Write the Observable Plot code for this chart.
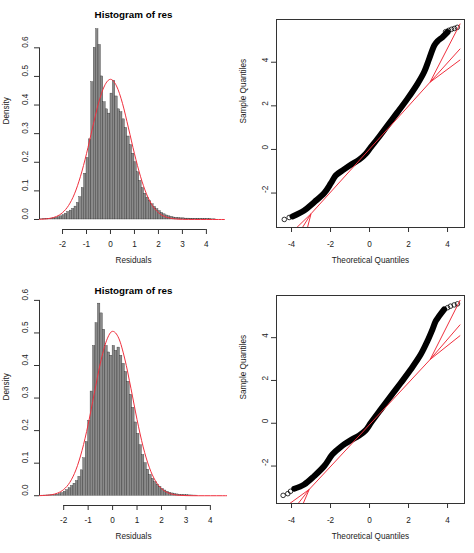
<!DOCTYPE html>
<html>
<head>
<meta charset="utf-8">
<script src="https://cdn.jsdelivr.net/npm/d3@7"></script>
<script src="https://cdn.jsdelivr.net/npm/@observablehq/plot@0.6"></script>
<style>
  body { margin: 0; background: #fff; }
  #fig { position: relative; width: 474px; height: 553px; background: #fff; }
  #fig > div { position: absolute; }
</style>
</head>
<body>
<div id="fig"></div>
<script>
// Histogram breaks (bin edges) shared by both residual histograms
const breaks = [-3.0,-2.9,-2.8,-2.7,-2.6,-2.5,-2.4,-2.3,-2.2,-2.1,-2.0,-1.9,-1.8,-1.7,-1.6,-1.5,-1.4,-1.3,-1.2,-1.1,
  -1.0,-0.9,-0.8,-0.7,-0.6,-0.5,-0.4,-0.3,-0.2,-0.1,0.0,0.1,0.2,0.3,0.4,0.5,0.6,0.7,0.8,0.9,
  1.0,1.1,1.2,1.3,1.4,1.5,1.6,1.7,1.8,1.9,2.0,2.1,2.2,2.3,2.4,2.5,2.6,2.7,2.8,2.9,
  3.0,3.1,3.2,3.3,3.4,3.5,3.6,3.7,3.8,3.9,4.0,4.1,4.2,4.3,4.4,4.5];

// Density per bin, first model
const densityTop = [
  0, 0.0005, 0.001, 0.0015, 0.002, 0.003, 0.004, 0.006, 0.008, 0.011,
  0.015, 0.020, 0.026, 0.031, 0.037, 0.045, 0.058, 0.078, 0.11, 0.16,
  0.215, 0.28, 0.48, 0.60, 0.665, 0.61, 0.50, 0.41, 0.385, 0.37,
  0.44, 0.485, 0.43, 0.385, 0.375, 0.35, 0.32, 0.29, 0.26, 0.23,
  0.20, 0.165, 0.135, 0.11, 0.09, 0.076, 0.064, 0.053, 0.044, 0.036,
  0.029, 0.023, 0.018, 0.014, 0.011, 0.009, 0.007, 0.006, 0.005, 0.004,
  0.004, 0.003, 0.003, 0.0025, 0.002, 0.002, 0.0015, 0.0015, 0.001, 0.001,
  0.001, 0.0008, 0.0005, 0.0005, 0];

// Density per bin, second model
const densityBottom = [
  0, 0.0003, 0.0005, 0.0008, 0.001, 0.0015, 0.002, 0.003, 0.005, 0.008,
  0.012, 0.017, 0.023, 0.030, 0.037, 0.045, 0.058, 0.078, 0.115, 0.165,
  0.23, 0.32, 0.46, 0.53, 0.59, 0.56, 0.51, 0.46, 0.44, 0.43,
  0.46, 0.445, 0.455, 0.43, 0.405, 0.38, 0.35, 0.31, 0.27, 0.225,
  0.19, 0.155, 0.125, 0.10, 0.08, 0.064, 0.052, 0.042, 0.034, 0.027,
  0.021, 0.016, 0.012, 0.009, 0.007, 0.005, 0.004, 0.003, 0.0025, 0.002,
  0.0015, 0.001, 0.0008, 0.0005, 0.0003, 0, 0, 0, 0, 0,
  0, 0, 0, 0, 0];

// Fitted normal density overlaid on each histogram
const fitX = [-3,-2.75,-2.5,-2.25,-2,-1.75,-1.5,-1.25,-1,-0.75,-0.5,-0.25,0,
  0.25,0.5,0.75,1,1.25,1.5,1.75,2,2.25,2.5,2.75,3,3.25,3.5,3.75,4,4.25,4.5,4.75];
const fitTop = [0.0006,0.0016,0.0044,0.0107,0.024,0.0486,0.0897,0.151,0.230,0.320,0.406,0.467,0.49,
  0.467,0.406,0.320,0.230,0.151,0.0897,0.0486,0.024,0.0107,0.0044,0.0016,0.0006,0.0002,0.0001,0,0,0,0,0];
const fitBottom = [0.0003,0.0011,0.0031,0.0081,0.0192,0.041,0.0794,0.139,0.219,0.314,0.407,0.476,0.505,
  0.484,0.420,0.330,0.234,0.150,0.0873,0.0459,0.0218,0.0094,0.0037,0.0013,0.0004,0.0001,0,0,0,0,0,0];

// Normal Q-Q plot, first model: theoretical vs sample quantiles
const qqTopTheo = [-3.95,-3.35,-2.84,-2.32,-1.98,-1.73,-1.38,-0.96,-0.53,-0.19,0.07,0.41,0.92,1.44,1.95,2.46,2.80,3.06,3.32,3.49,3.74,4.0];
const qqTopSample = [-3.07,-2.80,-2.42,-2.00,-1.55,-1.19,-0.96,-0.70,-0.47,-0.20,0.11,0.49,1.10,1.71,2.33,3.01,3.55,4.16,4.77,4.97,5.15,5.38];
const qqTopTailTheo = [-4.37,-4.12,3.90,4.05,4.20,4.35,4.50];
const qqTopTailSample = [-3.21,-3.12,5.40,5.46,5.51,5.55,5.60];

// Normal Q-Q plot, second model
const qqBotTheo = [-3.86,-3.35,-2.84,-2.32,-1.90,-1.47,-0.96,-0.53,-0.19,0.07,0.58,1.09,1.61,2.12,2.63,2.97,3.23,3.40,3.57,3.83];
const qqBotSample = [-3.06,-2.86,-2.47,-2.00,-1.45,-1.10,-0.79,-0.57,-0.32,0.02,0.65,1.27,1.89,2.52,3.22,3.84,4.39,4.78,5.01,5.32];
const qqBotTailTheo = [-4.43,-4.19,-4.05,4.00,4.15,4.34,4.51];
const qqBotTailSample = [-3.37,-3.29,-3.18,5.40,5.47,5.53,5.58];

// Reference lines on the Q-Q plots (start / end points)
const refTopX1 = [-3.0, 3.1, 3.1, 3.1, -3.0, -3.0, -3.0];
const refTopY1 = [-2.95, 3.08, 3.08, 3.08, -2.95, -2.95, -2.95];
const refTopX2 = [3.1, 4.65, 4.65, 4.65, -3.73, -3.44, -3.18];
const refTopY2 = [3.08, 5.77, 4.62, 4.11, -3.58, -3.58, -3.58];

const refBotX1 = [-3.09, 3.11, 3.11, 3.11, -3.09, -3.09, -3.09];
const refBotY1 = [-3.09, 2.98, 2.98, 2.98, -3.09, -3.09, -3.09];
const refBotX2 = [3.11, 4.65, 4.65, 4.65, -4.09, -3.66, -3.40];
const refBotY2 = [2.98, 5.76, 4.61, 4.10, -3.75, -3.75, -3.75];

// Axis ticks
const histXTicks = [-2, -1, 0, 1, 2, 3, 4];
const densityTicks = [0, 0.1, 0.2, 0.3, 0.4, 0.5, 0.6];
const qqXTicks = [-4, -2, 0, 2, 4];
const qqYTicks = [-2, 0, 2, 4];

const FONT = "'Liberation Sans', Arial, sans-serif";
const INK = "#222";
const AXIS = "#333";
const RED = "#f0303e";

function baseStyle() {
  return { fontFamily: FONT, fontSize: "8.2px", color: INK, background: "white", overflow: "visible" };
}

function histPanel({ density, fit, xDomain, yDomain, height, axisY }) {
  const bars = breaks.slice(0, -1)
    .map((b, i) => ({ x1: b, x2: breaks[i + 1], y: density[i] }))
    .filter(d => d.y > 0);
  const curve = fitX.map((x, i) => ({ x, y: fit[i] }));
  return Plot.plot({
    width: 237, height,
    marginLeft: 39, marginRight: 10, marginTop: 19, marginBottom: height - axisY,
    x: { domain: xDomain },
    y: { domain: yDomain },
    style: baseStyle(),
    marks: [
      Plot.rectY(bars, { x1: "x1", x2: "x2", y: "y", fill: "#8a8a8a", stroke: "#2b2b2b", strokeWidth: 0.35 }),
      Plot.line(curve, { x: "x", y: "y", stroke: RED, strokeWidth: 1, curve: "monotone-x", clip: true }),
      Plot.ruleY([yDomain[0]], { x1: histXTicks[0], x2: histXTicks[histXTicks.length - 1], stroke: AXIS }),
      Plot.ruleX([xDomain[0]], { y1: densityTicks[0], y2: densityTicks[densityTicks.length - 1], stroke: AXIS }),
      Plot.axisX(histXTicks, { tickSize: 5, tickPadding: 7, tickFormat: d => String(d), label: null, stroke: AXIS, fill: INK }),
      Plot.axisY(densityTicks, { tickSize: 5, fill: "none", stroke: AXIS, label: null }),
      Plot.text(densityTicks, { y: d => d, frameAnchor: "left", dx: -14, rotate: -90, text: d => d.toFixed(1), fill: INK }),
      Plot.text(["Histogram of res"], { frameAnchor: "top", dy: -8, text: d => d, fontWeight: "bold", fontSize: 9.8, fill: "#000" }),
      Plot.text(["Residuals"], { frameAnchor: "bottom", dy: 33.7, text: d => d, fill: INK }),
      Plot.text(["Density"], { frameAnchor: "left", dx: -33, rotate: -90, text: d => d, fill: INK })
    ]
  });
}

function qqPanel({ theo, sample, tailTheo, tailSample, x1, y1, x2, y2, yDomain, height, marginBottom }) {
  const band = theo.map((t, i) => ({ t, s: sample[i] }));
  const tails = tailTheo.map((t, i) => ({ t, s: tailSample[i] }));
  const refs = x1.map((v, i) => ({ x1: v, y1: y1[i], x2: x2[i], y2: y2[i] }));
  return Plot.plot({
    width: 237, height,
    marginLeft: 39, marginRight: 10, marginTop: 19, marginBottom,
    x: { domain: [-4.77, 4.87] },
    y: { domain: yDomain },
    style: baseStyle(),
    marks: [
      Plot.line(band, { x: "t", y: "s", stroke: "#000", strokeWidth: 6, curve: "catmull-rom", strokeLinecap: "round" }),
      Plot.dot(tails, { x: "t", y: "s", r: 2.3, stroke: "#000", strokeWidth: 0.8, fill: "none" }),
      Plot.link(refs, { x1: "x1", y1: "y1", x2: "x2", y2: "y2", stroke: RED, strokeWidth: 1, clip: true }),
      Plot.frame({ stroke: AXIS }),
      Plot.axisX(qqXTicks, { tickSize: 5, tickPadding: 9, tickFormat: d => String(d), label: null, stroke: AXIS, fill: INK }),
      Plot.axisY(qqYTicks, { tickSize: 5, fill: "none", stroke: AXIS, label: null }),
      Plot.text(qqYTicks, { y: d => d, frameAnchor: "left", dx: -11, rotate: -90, text: d => String(d), fill: INK }),
      Plot.text(["Theoretical Quantiles"], { frameAnchor: "bottom", dy: 35, text: d => d, fill: INK }),
      Plot.text(["Sample Quantiles"], { frameAnchor: "left", dx: -33, rotate: -90, text: d => d, fill: INK })
    ]
  });
}

const fig = document.getElementById("fig");
function place(node, left, top) {
  const wrap = document.createElement("div");
  wrap.style.left = left + "px";
  wrap.style.top = top + "px";
  wrap.appendChild(node);
  fig.appendChild(wrap);
}

place(histPanel({ density: densityTop, fit: fitTop, xDomain: [-2.96, 4.88], yDomain: [-0.035, 0.699], height: 276, axisY: 229 }), 0, 0);
place(qqPanel({ theo: qqTopTheo, sample: qqTopSample, tailTheo: qqTopTailTheo, tailSample: qqTopTailSample,
  x1: refTopX1, y1: refTopY1, x2: refTopX2, y2: refTopY2, yDomain: [-3.58, 5.96], height: 276, marginBottom: 49 }), 237, 0);
place(histPanel({ density: densityBottom, fit: fitBottom, xDomain: [-2.99, 4.70], yDomain: [-0.030, 0.615], height: 277, axisY: 229 }), 0, 276);
place(qqPanel({ theo: qqBotTheo, sample: qqBotSample, tailTheo: qqBotTailTheo, tailSample: qqBotTailSample,
  x1: refBotX1, y1: refBotY1, x2: refBotX2, y2: refBotY2, yDomain: [-3.75, 5.97], height: 277, marginBottom: 50 }), 237, 276);
</script>
</body>
</html>
